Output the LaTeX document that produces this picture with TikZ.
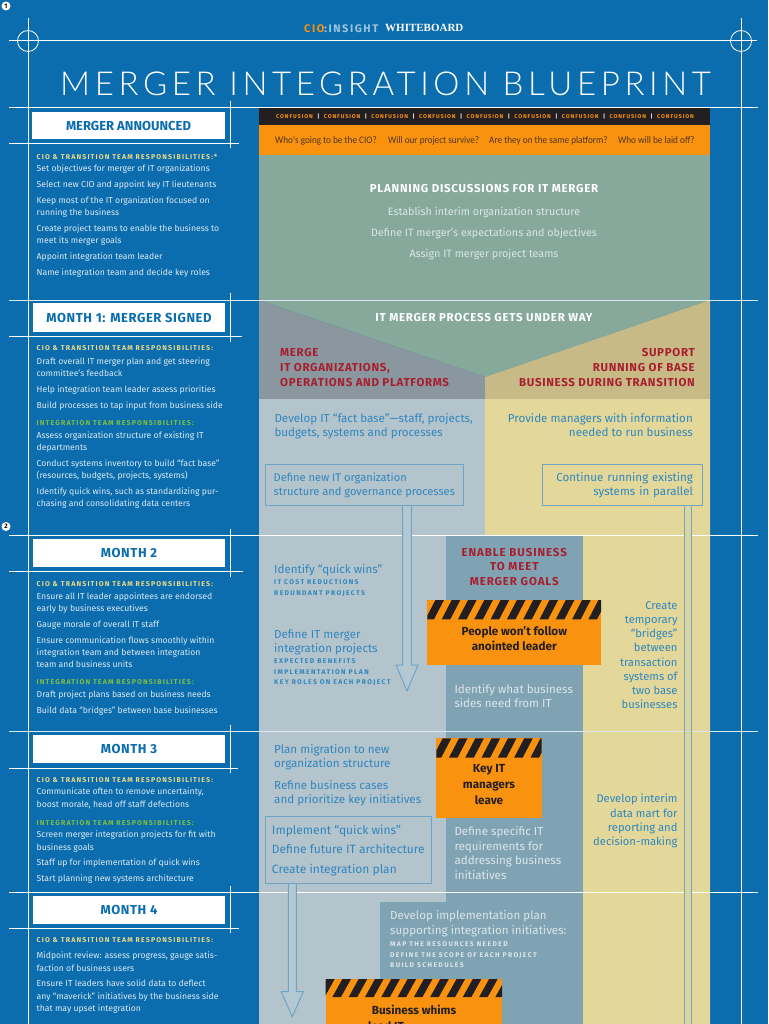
\documentclass[tikz,border=0pt]{standalone}
\usepackage{fontspec}
\usetikzlibrary{calc}
\setmainfont{Fira Sans}
\newfontfamily\titlefont[LetterSpace=14]{Lato Light}
\newfontfamily\slab{Liberation Serif}
\newfontfamily\narrow[FakeStretch=.92]{Carlito}
\definecolor{bgblue}{HTML}{0B6DAE}
\definecolor{teal}{HTML}{86A99C}
\definecolor{grayv}{HTML}{8A979E}
\definecolor{tanv}{HTML}{C8BA86}
\definecolor{lightblue}{HTML}{B4C4CC}
\definecolor{paley}{HTML}{E3D89A}
\definecolor{steel}{HTML}{7FA3B3}
\definecolor{signor}{HTML}{F9920F}
\definecolor{txtblue}{HTML}{2F86BE}
\definecolor{redt}{HTML}{A81E2F}
\definecolor{ylab}{HTML}{EAD98A}
\definecolor{glab}{HTML}{7FBF3F}
\definecolor{barblack}{HTML}{231F20}
\definecolor{sidetxt}{HTML}{DCEAF3}
\definecolor{outline}{HTML}{6FA5C2}
\definecolor{softtxt}{HTML}{DCE6EA}
\newcommand\fz[2]{\fontsize{#1}{#2}\selectfont}
\newcommand\fl{\rule{0pt}{14pt}}
\tikzset{
  x=1pt,y=-1pt,
  bl/.style={inner sep=0pt,yshift=14pt},
  tl/.style={bl,anchor=north west,align=left},
  tr/.style={bl,anchor=north east,align=right},
  tc/.style={bl,anchor=north,align=center},
  gridline/.style={white,line width=1pt},
  softline/.style={white!85!bgblue,line width=1pt},
  mbox/.style={fill=white,inner sep=0pt,text=bgblue,font=\fz{13}{15}\bfseries\addfontfeatures{LetterSpace=4.5}},
  side/.style={tl,text=sidetxt,font=\fz{8.65}{12.1}},
  cioh/.style={tl,text=ylab,font=\fz{7}{8}\bfseries\addfontfeatures{LetterSpace=16.5}},
  inth/.style={tl,text=glab,font=\fz{7}{8}\bfseries\addfontfeatures{LetterSpace=16.5}},
  body/.style={text=txtblue,font=\fz{11.6}{14}},
  soft/.style={tl,text=softtxt,font=\fz{11.6}{14.4}},
  sm/.style={font=\fz{6.8}{10.1}\bfseries\addfontfeatures{LetterSpace=20}},
  redh/.style={text=redt,font=\fz{11.5}{14.7}\bfseries\addfontfeatures{LetterSpace=6}},
  wh/.style={text=white,font=\fz{11.5}{14}\bfseries\addfontfeatures{LetterSpace=6.5}},
  sign/.style={text=barblack,font=\fz{11.7}{15.7}\bfseries},
  outbox/.style={draw=outline,line width=1pt,inner sep=0pt,body},
  hollow/.style={draw=outline,line width=1pt},
  q/.style={tl,text=barblack!80!signor,font=\narrow\fz{10}{12}},
  marker/.style={circle,fill=white,inner sep=0pt,minimum size=9pt,text=black,font=\fz{6.5}{7}\bfseries}
}
\newcommand\hazard[6]{%
  \fill[signor] (#1,#3) rectangle (#2,#5);
  \begin{scope}
    \clip (#1,#3) rectangle (#2,#4);
    \foreach \k in {-2,...,12}
      \fill[barblack] ({#6+\k*16.3},#4) -- ++(8.6,0) -- ++(10,{-(#4-#3)}) -- ++(-8.6,0) -- cycle;
  \end{scope}}
\begin{document}
\begin{tikzpicture}
\useasboundingbox (0,0) rectangle (768,1024);
\fill[bgblue] (0,0) rectangle (768,1024);
% colour fields
\fill[barblack] (259,108) rectangle (710,125);
\fill[signor] (259,125) rectangle (710,155);
\fill[teal] (259,155) rectangle (710,300);
\fill[teal] (259,300) -- (710,300) -- (485,377) -- cycle;
\fill[grayv] (259,300) -- (485,377) -- (485,399) -- (259,399) -- cycle;
\fill[tanv] (710,300) -- (485,377) -- (485,399) -- (710,399) -- cycle;
\fill[lightblue] (259,399) -- (485,399) -- (485,535) -- (446,535) -- (446,902) -- (380.5,902) -- (380.5,1024) -- (259,1024) -- cycle;
\fill[paley] (485,399) -- (710,399) -- (710,1024) -- (583,1024) -- (583,535) -- (485,535) -- cycle;
\fill[steel] (446,535) rectangle (583,1024);
\fill[steel] (380.5,902) rectangle (446,1024);
% blueprint lines
\draw[gridline] (9,41) -- (757,41);
\draw[gridline] (9,107.5) -- (758,107.5);
\draw[softline] (9,300) -- (758,300);
\draw[gridline] (9,535) -- (758,535);
\draw[softline] (9,731) -- (758,731);
\draw[gridline] (9,892) -- (758,892);
\draw[gridline] (28,18) -- (28,1024);
\draw[gridline] (741,18) -- (741,1024);
\draw[gridline,line width=.8pt] (28,41) circle (10.5);
\draw[gridline,line width=.8pt] (741,41) circle (10.5);
\draw[gridline] (9,144) -- (239,144);
\draw[gridline] (230,101) -- (230,148);
\draw[gridline] (9,336) -- (242,336);
\draw[gridline] (230,293) -- (230,342);
\draw[gridline] (9,571) -- (243,571);
\draw[gridline] (230,529) -- (230,577);
\draw[gridline] (9,768) -- (238,768);
\draw[gridline] (230,725) -- (230,773);
\draw[gridline] (9,928) -- (239,928);
\draw[gridline] (230,886) -- (230,933);
% header
\node[marker] (m1) at (6,6) {1};
\node[marker] (m2) at (6,526.5) {2};
\node[tl,font=\fz{11}{12}\bfseries\addfontfeatures{LetterSpace=14}] (brand) at (304,32) {\fl\textcolor{signor}{CIO}\textcolor{white!60!bgblue}{:INSIGHT}};
\node[tl,text=white,font=\slab\fz{11}{12}\bfseries] (wb) at (385,31.5) {\fl WHITEBOARD};
\node[tl,text=white,font=\titlefont\fz{33}{36}] (title) at (60,86) {\fl MERGER INTEGRATION BLUEPRINT};
% left month boxes
\node[mbox,minimum width=193pt,minimum height=27pt,font=\fz{13}{15}\bfseries] (b0) at (128.5,125.5) {MERGER ANNOUNCED};
\node[mbox,minimum width=192pt,minimum height=29pt] (b1) at (129,317.5) {MONTH 1: MERGER SIGNED};
\node[mbox,minimum width=192pt,minimum height=28pt] (b2) at (129,553) {MONTH 2};
\node[mbox,minimum width=192pt,minimum height=28pt] (b3) at (129,749) {MONTH 3};
\node[mbox,minimum width=192pt,minimum height=28pt] (b4) at (129,910) {MONTH 4};
% left lists
\node[cioh] (h0) at (36.5,159) {\fl CIO \& TRANSITION TEAM RESPONSIBILITIES:*};
\node[side] (l0) at (36.5,171.5) {\fl Set objectives for merger of IT organizations\\[3.8pt]
Select new CIO and appoint key IT lieutenants\\[3.8pt]
Keep most of the IT organization focused on\\
running the business\\[3.8pt]
Create project teams to enable the business to\\
meet its merger goals\\[3.8pt]
Appoint integration team leader\\[3.8pt]
Name integration team and decide key roles};
\node[cioh] (h1) at (36.5,350.3) {\fl CIO \& TRANSITION TEAM RESPONSIBILITIES:};
\node[side] (l1) at (36.5,364) {\fl Draft overall IT merger plan and get steering\\
committee's feedback\\[3.8pt]
Help integration team leader assess priorities\\[3.8pt]
Build processes to tap input from business side};
\node[inth] (i1) at (36.5,425.5) {\fl INTEGRATION TEAM RESPONSIBILITIES:};
\node[side] (k1) at (36.5,438) {\fl Assess organization structure of existing IT\\
departments\\[3.8pt]
Conduct systems inventory to build “fact base”\\
(resources, budgets, projects, systems)\\[3.8pt]
Identify quick wins, such as standardizing pur-\\
chasing and consolidating data centers};
\node[cioh] (h2) at (36.5,586.7) {\fl CIO \& TRANSITION TEAM RESPONSIBILITIES:};
\node[side] (l2) at (36.5,599) {\fl Ensure all IT leader appointees are endorsed\\
early by business executives\\[3.8pt]
Gauge morale of overall IT staff\\[3.8pt]
Ensure communication flows smoothly within\\
integration team and between integration\\
team and business units};
\node[inth] (i2) at (36.5,684.7) {\fl INTEGRATION TEAM RESPONSIBILITIES:};
\node[side] (k2) at (36.5,697) {\fl Draft project plans based on business needs\\[3.8pt]
Build data “bridges” between base businesses};
\node[cioh] (h3) at (36.5,782) {\fl CIO \& TRANSITION TEAM RESPONSIBILITIES:};
\node[side] (l3) at (36.5,794.7) {\fl Communicate often to remove uncertainty,\\
boost morale, head off staff defections};
\node[inth] (i3) at (36.5,825) {\fl INTEGRATION TEAM RESPONSIBILITIES:};
\node[side] (k3) at (36.5,837.7) {\fl Screen merger integration projects for fit with\\
business goals\\[3.8pt]
Staff up for implementation of quick wins\\[3.8pt]
Start planning new systems architecture};
\node[cioh] (h4) at (36.5,942.3) {\fl CIO \& TRANSITION TEAM RESPONSIBILITIES:};
\node[side] (l4) at (36.5,958.7) {\fl Midpoint review: assess progress, gauge satis-\\
faction of business users\\[3.8pt]
Ensure IT leaders have solid data to deflect\\
any “maverick” initiatives by the business side\\
that may upset integration};
% top bar
\node[tl,text=signor,font=\fz{5.6}{6}\bfseries\addfontfeatures{LetterSpace=16}] (conf) at (276,118.5) {\fl CONFUSION \ \textcolor{white}{|} \ CONFUSION \ \textcolor{white}{|} \ CONFUSION \ \textcolor{white}{|} \ CONFUSION \ \textcolor{white}{|} \ CONFUSION \ \textcolor{white}{|} \ CONFUSION \ \textcolor{white}{|} \ CONFUSION \ \textcolor{white}{|} \ CONFUSION \ \textcolor{white}{|} \ CONFUSION};
\node[q] (q1) at (275,143) {\fl Who's going to be the CIO?};
\node[q] (q2) at (388,143) {\fl Will our project survive?};
\node[q] (q3) at (489,143) {\fl Are they on the same platform?};
\node[q] (q4) at (618,143) {\fl Who will be laid off?};
% planning
\node[tc,wh] (plan) at (484,192) {\fl PLANNING DISCUSSIONS FOR IT MERGER};
\node[tc,text=softtxt,font=\fz{10.7}{21}] (planl) at (484,215) {\fl Establish interim organization structure\\
Define IT merger's expectations and objectives\\
Assign IT merger project teams};
\node[tc,wh] (under) at (484,321.7) {\fl IT MERGER PROCESS GETS UNDER WAY};
\node[tl,redh] (merge) at (280,356.7) {\fl MERGE\\IT ORGANIZATIONS,\\OPERATIONS AND PLATFORMS};
\node[tr,redh] (support) at (695,356.7) {\fl SUPPORT\\RUNNING OF BASE\\BUSINESS DURING TRANSITION};
\node[tl,body] (fact) at (274.3,422) {\fl Develop IT “fact base”—staff, projects,\\budgets, systems and processes};
\node[tr,body] (prov) at (693,422) {\fl Provide managers with information\\needed to run business};
% boxes with arrows
\node[outbox,minimum width=198pt,minimum height=41.4pt,align=left,font=\fz{11.1}{14}] (boxa) at (364.3,485) {Define new IT organization\\structure and governance processes};
\node[outbox,minimum width=159.6pt,minimum height=41.4pt,text width=141pt,align=right] (boxb) at (622.5,485) {Continue running existing\\systems in parallel};
\node[outbox,minimum width=166pt,minimum height=66.7pt,align=left,font=\fz{12}{19.5}] (boxc) at (348.3,850.3) {Implement “quick wins”\\Define future IT architecture\\Create integration plan};
\coordinate (tipa) at (407,691);
\coordinate (tipb) at (687.8,1026);
\coordinate (tipc) at (292.3,1016.7);
\filldraw[hollow,fill=lightblue!80!white!90!txtblue] ($(boxa.south -| tipa)+(-4.3,0)$) -- ($(tipa)+(-4.3,-26)$) -- ($(tipa)+(-11,-26)$) -- (tipa) -- ($(tipa)+(11,-26)$) -- ($(tipa)+(4.3,-26)$) -- ($(boxa.south -| tipa)+(4.3,0)$);
\filldraw[hollow,fill=paley!85!lightblue] ($(boxb.south -| tipb)+(-3.8,0)$) -- ($(tipb)+(-3.8,0)$) -- ($(tipb)+(3.8,0)$) -- ($(boxb.south -| tipb)+(3.8,0)$);
\filldraw[hollow,fill=lightblue!80!white!90!txtblue] ($(boxc.south -| tipc)+(-4,0)$) -- ($(tipc)+(-4,-25)$) -- ($(tipc)+(-11,-25)$) -- (tipc) -- ($(tipc)+(11,-25)$) -- ($(tipc)+(4,-25)$) -- ($(boxc.south -| tipc)+(4,0)$);
% left column text
\node[tl,body] (qw) at (274,573) {\fl Identify “quick wins”};
\node[tl,sm,text=txtblue] (qws) at (274,584.7) {\fl IT COST REDUCTIONS\\REDUNDANT PROJECTS};
\node[tl,body] (dm) at (274,638.3) {\fl Define IT merger\\integration projects};
\node[tl,sm,text=txtblue] (dms) at (274,663.7) {\fl EXPECTED BENEFITS\\IMPLEMENTATION PLAN\\KEY ROLES ON EACH PROJECT};
\node[tl,body] (pm) at (274,753.3) {\fl Plan migration to new\\organization structure};
\node[tl,body] (rb) at (274,789.3) {\fl Refine business cases\\and prioritize key initiatives};
% middle column
\node[tc,redh,font=\fz{11.5}{14.7}\bfseries\addfontfeatures{LetterSpace=8}] (enable) at (514.3,556) {\fl ENABLE BUSINESS\\TO MEET\\MERGER GOALS};
\hazard{427.3}{601}{600}{619.3}{665}{441.7}
\node[tc,sign] (s1) at (514.3,635) {\fl People won't follow\\anointed leader};
\hazard{436.3}{541.7}{738.3}{757.5}{818.3}{449}
\node[tc,sign,font=\fz{11.7}{16}\bfseries] (s2) at (489,772.3) {\fl Key IT\\managers\\leave};
\hazard{325.7}{502}{979}{997}{1024}{348.7}
\node[tc,sign] (s3) at (414,1014.7) {\fl Business whims};
\node[tl,sign] (s3b) at (368,1030.4) {\fl lead IT};
\node[soft] (what) at (454.3,693) {\fl Identify what business\\sides need from IT};
\node[soft,font=\fz{11.6}{14.5}] (spec) at (454.3,835.3) {\fl Define specific IT\\requirements for\\addressing business\\initiatives};
\node[soft,font=\fz{11.6}{15}] (impl) at (390,919.3) {\fl Develop implementation plan\\supporting integration initiatives:};
\node[tl,sm,text=softtxt] (impls) at (390,946.7) {\fl MAP THE RESOURCES NEEDED\\DEFINE THE SCOPE OF EACH PROJECT\\BUILD SCHEDULES};
% right column
\node[tr,body,font=\fz{11.2}{14.15}] (bridge) at (677.7,609.3) {\fl Create\\temporary\\“bridges”\\between\\transaction\\systems of\\two base\\businesses};
\node[tr,body,font=\fz{11.2}{14.3}] (mart) at (677.7,802.7) {\fl Develop interim\\data mart for\\reporting and\\decision-making};
\end{tikzpicture}
\end{document}
